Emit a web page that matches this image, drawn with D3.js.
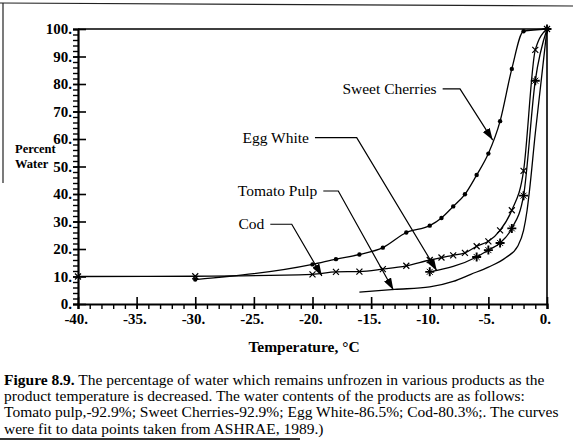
<!DOCTYPE html>
<html>
<head>
<meta charset="utf-8">
<script src="https://cdn.jsdelivr.net/npm/d3@7"></script>
<style>
  body { margin: 0; background: #fff; }
  svg { display: block; }
</style>
</head>
<body>
<div id="chart"></div>
<script>
// Unfrozen water vs temperature (Figure 8.9)

// data
const cherryTemp  = [-30, -20, -18, -16, -14, -12, -10, -9, -8, -7, -6, -5, -4, -3, -2, 0];
const cherryWater = [8.9, 14.4, 16.3, 18.0, 20.5, 26.0, 28.5, 31.3, 35.5, 39.9, 46.9, 54.7, 66.5, 85.5, 99.2, 100];

const codTemp  = [-40, -30, -20, -18, -16, -14, -12, -10, -9, -8, -7, -6, -5, -4, -3, -2, -1, 0];
const codWater = [10.0, 10.1, 10.8, 11.7, 11.8, 12.7, 13.9, 16.0, 16.9, 17.7, 18.6, 21.0, 22.8, 26.8, 34.1, 48.4, 92.4, 100];

const eggTemp  = [-10, -6, -5, -4, -3, -2, -1, 0];
const eggWater = [11.7, 17.1, 19.6, 22.2, 27.5, 39.4, 81.2, 100];

// tomato pulp: fitted curve only, no data marks
const tomatoTemp  = [-16, -13, -10, -8, -6.5, -5, -3.5, -2.5, -2, -1.7, -1.5, -1, -0.5, 0];
const tomatoWater = [4.3, 5.3, 6.2, 8.2, 10.8, 13.4, 16.9, 21, 26.8, 34, 41, 62, 81, 100];

const xMajor = [-40, -35, -30, -25, -20, -15, -10, -5, 0];
const yMajor = [0, 10, 20, 30, 40, 50, 60, 70, 80, 90, 100];

// callouts: label, start of leader, elbow, arrow tip (data units)
const callouts = [
    { label: "Sweet Cherries", from: [-8.9, 78.2],  elbow: [-7.42, 78.2],  tip: [-4.63, 59.6] },
    { label: "Egg White",      from: [-19.79, 60.5], elbow: [-16.23, 60.5], tip: [-9.4, 12.1] },
    { label: "Tomato Pulp",    from: [-19.08, 41.1], elbow: [-17.8, 41.1],  tip: [-13.1, 5.1] },
    { label: "Cod",            from: [-23.6, 29.0],  elbow: [-21.77, 29.0], tip: [-19.2, 10.2] }
];

const captionLines = [
    ["Figure 8.9.", " The percentage of water which remains unfrozen in various products as the"],
    ["", "product temperature is decreased. The water contents of the products are as follows:"],
    ["", "Tomato pulp,-92.9%; Sweet Cherries-92.9%; Egg White-86.5%; Cod-80.3%;. The curves"],
    ["", "were fit to data points taken from ASHRAE, 1989.)"]
];

const W = 573, H = 440;
const serif = "'Liberation Serif', 'Times New Roman', serif";

const svg = d3.select("#chart").append("svg")
    .attr("width", W)
    .attr("height", H)
    .style("font-family", serif);

const x = d3.scaleLinear().domain([-40, 0]).range([78, 547]);
const y = d3.scaleLinear().domain([0, 100]).range([304, 29]);

// scan border bits
svg.append("line").attr("x1", 0).attr("y1", 3).attr("x2", W).attr("y2", 6)
    .attr("stroke", "#222").attr("stroke-width", 1.2);
svg.append("line").attr("x1", 3).attr("y1", 3).attr("x2", 3).attr("y2", 183)
    .attr("stroke", "#222").attr("stroke-width", 1.2);
svg.append("line").attr("x1", 0).attr("y1", 439).attr("x2", 300).attr("y2", 439)
    .attr("stroke", "#333").attr("stroke-width", 2);

// frame (top and right)
svg.append("path")
    .attr("d", `M${x(-40)},${y(100)}H${x(0)}V${y(0)}`)
    .attr("fill", "none")
    .attr("stroke", "#000")
    .attr("stroke-width", 1.6);

// y axis: minor ticks
svg.append("g")
    .attr("transform", `translate(${x(-40)},0)`)
    .call(d3.axisLeft(y).tickValues(d3.range(0, 101, 2)).tickSize(5).tickFormat(""))
    .call(g => g.select(".domain").attr("stroke-width", 2.2))
    .call(g => g.selectAll(".tick line").attr("stroke-width", 1.4));

// y axis: major ticks + labels
const yAxis = svg.append("g")
    .attr("transform", `translate(${x(-40)},0)`)
    .call(d3.axisLeft(y).tickValues(yMajor).tickSize(5).tickPadding(1).tickFormat(d => d + "."))
    .call(g => g.select(".domain").remove());
yAxis.selectAll(".tick line").attr("x2", 8).attr("x1", -5).attr("stroke-width", 1.6);
yAxis.selectAll(".tick text")
    .attr("font-family", serif)
    .attr("font-size", "15px")
    .attr("font-weight", "bold")
    .attr("fill", "#000");

// x axis: minor ticks
svg.append("g")
    .attr("transform", `translate(0,${y(0)})`)
    .call(d3.axisBottom(x).tickValues(d3.range(-40, 1, 1)).tickSize(5).tickFormat(""))
    .call(g => g.select(".domain").attr("stroke-width", 2.2))
    .call(g => g.selectAll(".tick line").attr("stroke-width", 1.4));

// x axis: major ticks + labels
const xAxis = svg.append("g")
    .attr("transform", `translate(0,${y(0)})`)
    .call(d3.axisBottom(x).tickValues(xMajor).tickSize(5).tickPadding(4).tickFormat(d => d + "."))
    .call(g => g.select(".domain").remove());
xAxis.selectAll(".tick line").attr("y1", -7).attr("y2", 5).attr("stroke-width", 1.6);
xAxis.selectAll(".tick text")
    .attr("font-family", serif)
    .attr("font-size", "15px")
    .attr("font-weight", "bold")
    .attr("fill", "#000")
    .attr("dx", "-0.15em");

// axis titles
svg.append("text")
    .attr("x", 304)
    .attr("y", 352)
    .attr("text-anchor", "middle")
    .attr("font-size", "15.5px")
    .attr("font-weight", "bold")
    .text("Temperature, °C");

svg.append("text")
    .attr("x", 15).attr("y", 153)
    .attr("font-size", "12.5px").attr("font-weight", "bold")
    .text("Percent");
svg.append("text")
    .attr("x", 15).attr("y", 168)
    .attr("font-size", "12.5px").attr("font-weight", "bold")
    .text("Water");

// curves
const line = d3.line()
    .x(d => x(d[0]))
    .y(d => y(d[1]))
    .curve(d3.curveMonotoneX);

const series = [
    { t: cherryTemp, v: cherryWater, mark: "dot" },
    { t: codTemp, v: codWater, mark: "cross" },
    { t: eggTemp, v: eggWater, mark: "star" },
    { t: tomatoTemp, v: tomatoWater, mark: null }
];

const plot = svg.append("g");

series.forEach(s => {
    const pts = s.t.map((t, i) => [t, s.v[i]]);
    plot.append("path")
        .datum(pts)
        .attr("d", line)
        .attr("fill", "none")
        .attr("stroke", "#000")
        .attr("stroke-width", 1.3);

    if (!s.mark) return;

    const marks = plot.append("g").selectAll("g")
        .data(pts)
        .join("g")
        .attr("transform", d => `translate(${x(d[0])},${y(d[1])})`);

    if (s.mark === "dot") {
        marks.append("circle").attr("r", 2.2).attr("fill", "#000");
    } else if (s.mark === "cross") {
        marks.append("path")
            .attr("d", "M-3,-3L3,3M-3,3L3,-3")
            .attr("stroke", "#000").attr("stroke-width", 1.2);
    } else {
        marks.append("path")
            .attr("d", "M-4.5,0H4.5M0,-4.5V4.5")
            .attr("stroke", "#000").attr("stroke-width", 1.9);
        marks.append("path")
            .attr("d", "M-3,-3L3,3M-3,3L3,-3")
            .attr("stroke", "#000").attr("stroke-width", 1);
    }
});

// callouts with arrows
svg.append("defs").append("marker")
    .attr("id", "arrow")
    .attr("viewBox", "0 0 12 8")
    .attr("refX", 12)
    .attr("refY", 4)
    .attr("markerWidth", 12)
    .attr("markerHeight", 8)
    .attr("markerUnits", "userSpaceOnUse")
    .attr("orient", "auto")
    .append("path")
    .attr("d", "M0,0L12,4L0,8Z")
    .attr("fill", "#000");

callouts.forEach(c => {
    svg.append("path")
        .attr("d", d3.line()([
            [x(c.from[0]), y(c.from[1])],
            [x(c.elbow[0]), y(c.elbow[1])],
            [x(c.tip[0]), y(c.tip[1])]
        ]))
        .attr("fill", "none")
        .attr("stroke", "#000")
        .attr("stroke-width", 1.2)
        .attr("marker-end", "url(#arrow)");

    svg.append("text")
        .attr("x", x(c.from[0]) - 6)
        .attr("y", y(c.from[1]))
        .attr("dy", "0.32em")
        .attr("text-anchor", "end")
        .attr("font-size", "15.5px")
        .text(c.label);
});

// caption
captionLines.forEach((ln, i) => {
    const row = svg.append("text")
        .attr("x", 4)
        .attr("y", 385 + i * 16.2)
        .attr("font-size", "15.5px")
        .attr("fill", "#000");
    if (ln[0]) row.append("tspan").attr("font-weight", "bold").text(ln[0]);
    row.append("tspan").text(ln[1]);
});
</script>
</body>
</html>
